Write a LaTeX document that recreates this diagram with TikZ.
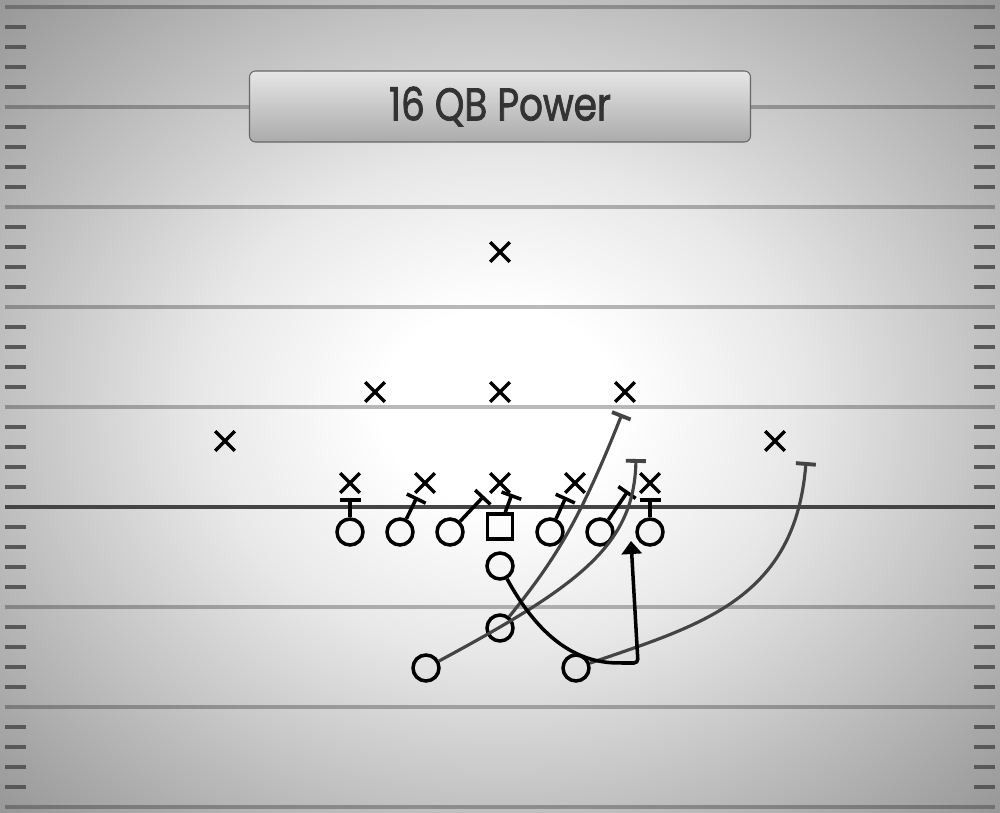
\documentclass[tikz,border=0pt]{standalone}
\usepackage{fontspec}
\newfontfamily\titlefont[FakeBold=2]{Poppins}
\usetikzlibrary{shapes.misc,arrows.meta}
\definecolor{fieldthree}{HTML}{E8E8E8}
\definecolor{fieldmid}{HTML}{C0C0C0}
\definecolor{fieldfour}{HTML}{A8A8A8}
\definecolor{fieldedge}{HTML}{959595}
\definecolor{routegray}{HTML}{444444}
\definecolor{tickgray}{HTML}{585858}
\pgfdeclareradialshading{field}{\pgfpoint{0bp}{0bp}}{color(0bp)=(white);color(12bp)=(white);color(30bp)=(fieldthree);color(50bp)=(fieldmid);color(62bp)=(fieldfour);color(72bp)=(fieldedge)}

\begin{document}
\begin{tikzpicture}[x=.1mm,y=-.1mm,
  player/.style={circle,draw,line width=1pt,minimum size=2.6mm,inner sep=0pt},
  snapper/.style={rectangle,draw,line width=1pt,minimum size=2.5mm,inner sep=0pt},
  defender/.style={cross out,draw,line width=1pt,minimum size=1.6mm,inner sep=0pt},
  block/.style={line width=1pt,-{Bar[width=2.1mm]}},
  route/.style={routegray,line width=.9pt,-{Bar[width=2mm,line width=1.1pt]}},
  run/.style={line width=1pt,-{Triangle[width=2mm,length=1.3mm]}},
  yardline/.style={black,opacity=.27,line width=1.1pt},
  hash/.style={tickgray,line width=1.1pt},
  titlebox/.style={rounded corners=.6mm,draw=black!60,line width=.3pt,
    top color=black!10,bottom color=black!33,minimum width=50.1mm,
    minimum height=7.1mm,inner sep=0pt,text=black!80}]
\useasboundingbox (0,0) rectangle (1000,813);
\begin{scope}
\clip (0,0) rectangle (1000,813);
\node[inner sep=0pt,xscale=2.8346,yscale=2.3046,transform shape] (bg) at (500,406.5) {\pgfuseshading{field}};
\end{scope}
% field
\foreach \y in {7,107,...,807}
  \draw[yardline] (5,\y) -- (995,\y);
\foreach \y in {0,100,...,700}
  \foreach \t in {27,47,67,87}{
    \draw[hash] (5,\y+\t) -- (26,\y+\t);
    \draw[hash] (974,\y+\t) -- (995,\y+\t);
  }
\draw[routegray,line width=1.15pt] (5,507) -- (995,507);
\node[titlebox] (title) at (500,106.5)
  {\titlefont\fontsize{13pt}{13pt}\selectfont\scalebox{.82}[1]{16 QB Power}};
% defense
\node[defender] (fs) at (500,252) {};
\node[defender] (wlb) at (375,392) {};
\node[defender] (mlb) at (500,392) {};
\node[defender] (slb) at (625,392) {};
\node[defender] (lcb) at (225,441) {};
\node[defender] (rcb) at (775,441) {};
\node[defender] (dle) at (350,483) {};
\node[defender] (dlt) at (425,483) {};
\node[defender] (dnt) at (500,483) {};
\node[defender] (drt) at (575,483) {};
\node[defender] (dre) at (650,483) {};
% offense
\node[player] (lte) at (350,532) {};
\node[player] (lt) at (400,532) {};
\node[player] (lg) at (450,532) {};
\node[snapper] (c) at (500,526.5) {};
\node[player] (rg) at (550,532) {};
\node[player] (rt) at (600,532) {};
\node[player] (rte) at (650,532) {};
\node[player] (qb) at (500,566) {};
\node[player] (fb) at (500,628) {};
\node[player] (lhb) at (426,668) {};
\node[player] (rhb) at (576,668) {};
% blocks
\coordinate (lteblk) at (350,498);
\coordinate (ltblk) at (417,497);
\coordinate (lgblk) at (484,496);
\coordinate (cblk) at (512,494);
\coordinate (rgblk) at (566,497);
\coordinate (rtblk) at (628,491);
\coordinate (rteblk) at (650,498);
\draw[block] (lte) -- (lteblk);
\draw[block] (lt) -- (ltblk);
\draw[block] (lg) -- (lgblk);
\draw[block] (c) -- (cblk);
\draw[block] (rg) -- (rgblk);
\draw[block] (rt) -- (rtblk);
\draw[block] (rte) -- (rteblk);
% routes
\coordinate (fbend) at (622,414);
\coordinate (lhbend) at (636,459);
\coordinate (rhbend) at (806,462);
\coordinate (qbturn) at (638,663);
\coordinate (qbend) at (631,541);
\draw[route] (fb) .. controls (555,560) and (580,520) .. (fbend);
\draw[route] (lhb) .. controls (580,585) and (634,545) .. (lhbend);
\draw[route] (rhb) .. controls (700,625) and (795,600) .. (rhbend);
\draw[run,rounded corners=.4mm] (qb) .. controls (535,630) and (570,662) .. (620,663) -- (qbturn) -- (qbend);
\end{tikzpicture}
\end{document}
